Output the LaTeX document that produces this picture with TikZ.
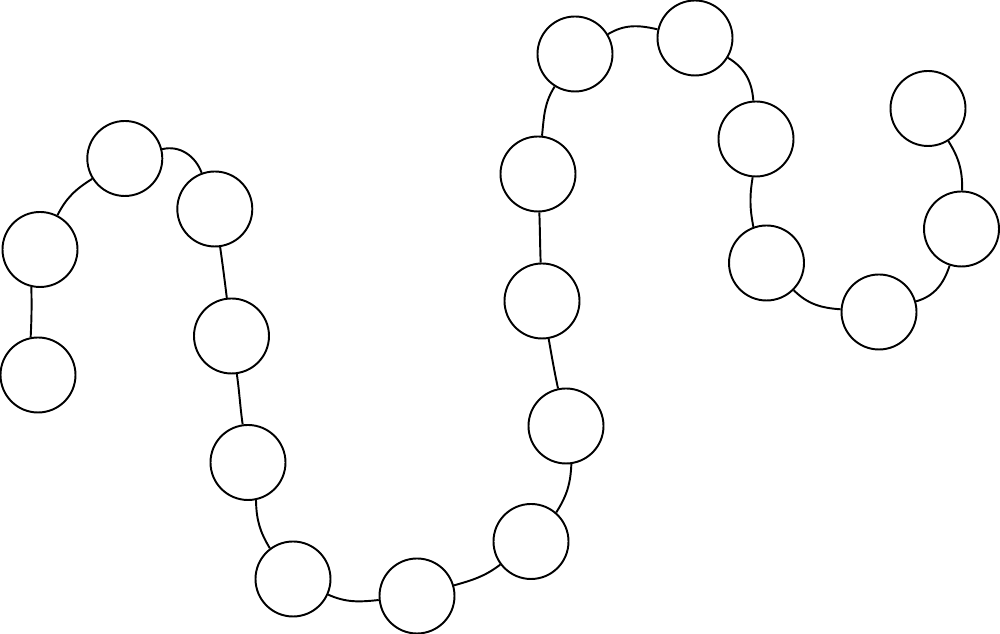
\documentclass[tikz,border=0pt]{standalone}
\usepackage{tikz}
\usepackage{xcolor}

\begin{document}
\begin{tikzpicture}
\useasboundingbox (0,0) rectangle (20,12.68);
\begin{scope}[every node/.style={circle, line width=1.1pt, draw, fill=white, minimum size=1.5cm, inner sep=0pt}]
\node (BEAD-1) at (0.760000,5.180000) {};
\node (BEAD-2) at (0.800000,7.690000) {};
\node (BEAD-3) at (2.496000,9.510000) {};
\node (BEAD-4) at (4.296000,8.500000) {};
\node (BEAD-5) at (4.630000,5.960000) {};
\node (BEAD-6) at (4.960000,3.430000) {};
\node (BEAD-7) at (5.860000,1.100000) {};
\node (BEAD-8) at (8.340000,0.760000) {};
\node (BEAD-9) at (10.620000,1.850000) {};
\node (BEAD-10) at (11.320000,4.160000) {};
\node (BEAD-11) at (10.840000,6.660000) {};
\node (BEAD-12) at (10.760000,9.200000) {};
\node (BEAD-13) at (11.500000,11.600000) {};
\node (BEAD-14) at (13.900000,11.920000) {};
\node (BEAD-15) at (15.120000,9.900000) {};
\node (BEAD-16) at (15.330000,7.420000) {};
\node (BEAD-17) at (17.580000,6.440000) {};
\node (BEAD-18) at (19.230000,8.100000) {};
\node (BEAD-19) at (18.560000,10.510000) {};
\end{scope}
\begin{scope}[every edge/.style={draw=black, line width=1.1pt}]
\path [-] (BEAD-1.101)edge[bend right=2] (BEAD-2.257);
\path [-] (BEAD-2)edge[out=63,in=212] (BEAD-3);
\path [-] (BEAD-3)edge[out=14,in=110] (BEAD-4);
\path [-] (BEAD-4)edge[out=-82,in=97] (BEAD-5);
\path [-] (BEAD-5)edge[out=-82,in=98] (BEAD-6);
\path [-] (BEAD-6.-78)edge[bend right=15] (BEAD-7.127);
\path [-] (BEAD-7)edge[out=-24,in=186] (BEAD-8);
\path [-] (BEAD-8)edge[out=16,in=217] (BEAD-9);
\path [-] (BEAD-9.49)edge[bend right=15] (BEAD-10.278);
\path [-] (BEAD-10)edge[out=102,in=-80] (BEAD-11);
\path [-] (BEAD-11)edge[out=92,in=-88] (BEAD-12);
\path [-] (BEAD-12)edge[out=84,in=238] (BEAD-13);
\path [-] (BEAD-13)edge[out=31,in=167] (BEAD-14);
\path [-] (BEAD-14)edge[out=-31,in=94] (BEAD-15);
\path [-] (BEAD-15.265)edge[bend right=10] (BEAD-16.110);
\path [-] (BEAD-16)edge[out=-45,in=176] (BEAD-17);
\path [-] (BEAD-17)edge[out=16,in=252] (BEAD-18);
\path [-] (BEAD-18)edge[out=89,in=302] (BEAD-19);
\end{scope}
\end{tikzpicture}
\end{document}
